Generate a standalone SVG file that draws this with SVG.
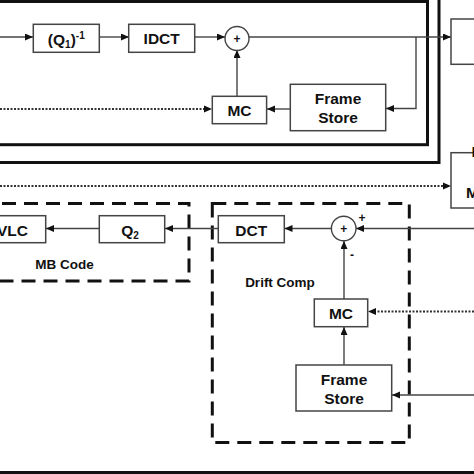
<svg xmlns="http://www.w3.org/2000/svg" width="474" height="474" viewBox="0 0 474 474">
<style>
.box{fill:#fff;stroke:#444;stroke-width:1.5}
.frame{fill:none;stroke:#111;stroke-width:3}
.dash{fill:none;stroke:#111;stroke-width:3;stroke-dasharray:14 8}
.ln{fill:none;stroke:#444;stroke-width:1.4}
.dot{fill:none;stroke:#333;stroke-width:2;stroke-dasharray:2 1.5}
.t{font-family:"Liberation Sans",Arial,sans-serif;font-weight:bold;font-size:15.5px;fill:#111;text-anchor:middle}
.ts{font-family:"Liberation Sans",Arial,sans-serif;font-weight:bold;font-size:15.5px;fill:#111}
.s{font-family:"Liberation Sans",Arial,sans-serif;font-weight:bold;font-size:13.5px;fill:#111;text-anchor:middle}
.sign{font-family:"Liberation Sans",Arial,sans-serif;font-weight:bold;font-size:12px;fill:#111;text-anchor:middle}
</style>
<defs>
<marker id="ah" markerUnits="userSpaceOnUse" markerWidth="9" markerHeight="8" refX="8" refY="3.5" orient="auto">
<path d="M0,0 L8,3.5 L0,7 z" fill="#111"/>
</marker>
</defs>
<rect width="474" height="474" fill="#fff"/>
<g id="frames">
<rect class="frame" x="-10" y="1.5" width="437.5" height="143.2"/>
<rect class="frame" x="-20" y="-20" width="459" height="182.5"/>
<line class="frame" x1="0" y1="472.5" x2="474" y2="472.5"/>
<rect id="mbcode-group" class="dash" x="-20" y="203.5" width="209" height="77.5"/>
<rect id="driftcomp-group" class="dash" x="212.3" y="203.5" width="197" height="239"/>
</g>
<g id="connectors">
<line class="ln" x1="0" y1="37" x2="33" y2="37" marker-end="url(#ah)"/>
<line class="ln" x1="99" y1="37" x2="129" y2="37" marker-end="url(#ah)"/>
<line class="ln" x1="195" y1="37" x2="225" y2="37" marker-end="url(#ah)"/>
<line class="ln" x1="249" y1="37" x2="451" y2="37" marker-end="url(#ah)"/>
<polyline class="ln" points="416,37 416,108.5 386,108.5" marker-end="url(#ah)"/>
<line class="ln" x1="290" y1="109" x2="267" y2="109" marker-end="url(#ah)"/>
<line class="ln" x1="237" y1="96" x2="237" y2="50" marker-end="url(#ah)"/>
<line class="dot" x1="0" y1="109" x2="205" y2="109"/>
<path d="M204,105.5 L212,109 L204,112.5 z" fill="#111"/>
<line class="dot" x1="0" y1="186" x2="444" y2="186"/>
<path d="M443,182.5 L451,186 L443,189.5 z" fill="#111"/>
<line class="ln" x1="474" y1="228.5" x2="356" y2="228.5" marker-end="url(#ah)"/>
<line class="ln" x1="331.5" y1="228.5" x2="284.5" y2="228.5" marker-end="url(#ah)"/>
<line class="ln" x1="218.3" y1="228.5" x2="165" y2="228.5" marker-end="url(#ah)"/>
<line class="ln" x1="99.3" y1="228.5" x2="46" y2="228.5" marker-end="url(#ah)"/>
<line class="ln" x1="344" y1="299" x2="344" y2="241" marker-end="url(#ah)"/>
<line class="dot" x1="474" y1="311.5" x2="375" y2="311.5"/>
<path d="M376,308 L368,311.5 L376,315 z" fill="#111"/>
<line class="ln" x1="344" y1="365" x2="344" y2="327" marker-end="url(#ah)"/>
<line class="ln" x1="474" y1="395" x2="392" y2="395" marker-end="url(#ah)"/>
</g>
<g id="q1inv">
<rect class="box" x="33.3" y="24.3" width="66" height="28"/>
<text class="t" x="66.3" y="45">(Q<tspan font-size="10" dy="3">1</tspan><tspan dy="-3">)</tspan><tspan font-size="10" dy="-6">-1</tspan></text>
</g>
<g id="idct">
<rect class="box" x="128.7" y="24.3" width="66" height="28"/>
<text class="t" x="161.7" y="44">IDCT</text>
</g>
<g id="adder1">
<circle cx="237" cy="38.5" r="12" fill="#fff" stroke="#444" stroke-width="1.4"/>
<text class="sign" x="237" y="43">+</text>
</g>
<g id="mc1">
<rect class="box" x="212.3" y="96.3" width="54.3" height="27.4"/>
<text class="t" x="239.5" y="116">MC</text>
</g>
<g id="framestore1">
<rect class="box" x="290.3" y="84.3" width="95.4" height="46.4"/>
<text class="t" x="338" y="104">Frame</text>
<text class="t" x="338" y="123">Store</text>
</g>
<g id="rightbox1">
<rect class="box" x="451" y="19" width="40" height="45.3"/>
</g>
<g id="rightbox2">
<rect class="box" x="451" y="152.7" width="40" height="55.3"/>
<text class="ts" x="466" y="198">M</text>
<text class="ts" x="471.5" y="157">M</text>
</g>
<g id="vlc">
<rect class="box" x="-10" y="215.7" width="55.7" height="27"/>
<text class="ts" x="28" y="236" style="text-anchor:end">VLC</text>
</g>
<g id="q2">
<rect class="box" x="99.3" y="215.7" width="65.4" height="27"/>
<text class="t" x="130" y="236">Q<tspan font-size="10" dy="3">2</tspan></text>
</g>
<g id="mbcode-label">
<text class="s" x="64.5" y="269">MB Code</text>
</g>
<g id="dct">
<rect class="box" x="218.3" y="215.7" width="66" height="27"/>
<text class="t" x="251.3" y="235.5">DCT</text>
</g>
<g id="adder2">
<circle cx="343.7" cy="228.5" r="12.3" fill="#fff" stroke="#444" stroke-width="1.4"/>
<text class="sign" x="343.7" y="233">+</text>
<text class="sign" x="362" y="222">+</text>
<text class="sign" x="352" y="259">-</text>
</g>
<g id="driftcomp-label">
<text class="s" x="280" y="287">Drift Comp</text>
</g>
<g id="mc2">
<rect class="box" x="314.3" y="299" width="53.4" height="27.7"/>
<text class="t" x="341" y="319">MC</text>
</g>
<g id="framestore2">
<rect class="box" x="296" y="365" width="95.7" height="46"/>
<text class="t" x="344" y="385">Frame</text>
<text class="t" x="344" y="404">Store</text>
</g>
</svg>
